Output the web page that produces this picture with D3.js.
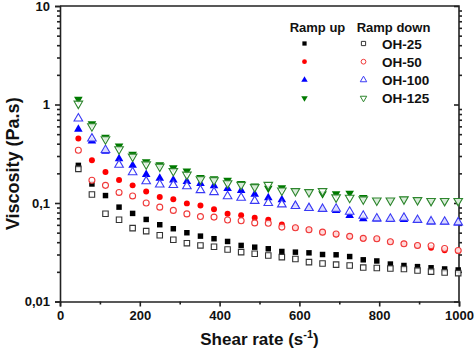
<!DOCTYPE html>
<html>
<head>
<meta charset="utf-8">
<script src="https://cdn.jsdelivr.net/npm/d3@7"></script>
<style>
    body { margin: 0; background: #fff; }
    text { font-family: "Liberation Sans", Arial, sans-serif; font-weight: bold; fill: #111; }
</style>
</head>
<body>
<div id="chart"></div>
<script>
// shear rate (s-1), one value per column of points
const shearRate = [46, 80, 114, 148, 182, 216, 250, 284, 318, 352, 386, 420, 454, 488, 522,
    556, 590, 624, 658, 692, 726, 760, 794, 828, 862, 896, 930, 964, 998];

// viscosity (Pa.s), ramp up
const oh25Up = [0.241, 0.156, 0.119, 0.0908, 0.0784, 0.0681, 0.0602, 0.0548, 0.0499, 0.0461,
    0.0434, 0.0407, 0.0371, 0.0356, 0.0343, 0.0322, 0.0317, 0.0312, 0.0300, 0.0298,
    0.0286, 0.0265, 0.0258, 0.0240, 0.0232, 0.0226, 0.0220, 0.0214, 0.0209];
const oh50Up = [0.451, 0.271, 0.206, 0.171, 0.151, 0.131, 0.115, 0.109, 0.0991, 0.0941,
    0.0865, 0.0778, 0.0753, 0.0709, 0.0676, 0.0605, 0.0561, 0.0535, 0.0506, 0.0480,
    0.0457, 0.0434, 0.0431, 0.0404, 0.0385, 0.0371, 0.0351, 0.0332, 0.0326];
const oh100Up = [0.561, 0.426, 0.335, 0.281, 0.241, 0.195, 0.178, 0.171, 0.165, 0.158,
    0.150, 0.140, 0.134, 0.123, 0.113, 0.108, 0.0946, 0.0888, 0.0857, 0.0841,
    0.0748, 0.0692, 0.0686, 0.0681, 0.0678, 0.0665, 0.0640, 0.0640, 0.0625];
const oh125Up = [1.13, 0.638, 0.465, 0.379, 0.312, 0.263, 0.244, 0.228, 0.211, 0.182,
    0.176, 0.170, 0.158, 0.149, 0.141, 0.143, 0.134, 0.131, 0.124, 0.124,
    0.126, 0.114, 0.106, 0.106, 0.109, 0.107, 0.105, 0.105, 0.105];

// viscosity (Pa.s), ramp down
const oh25Down = [0.222, 0.122, 0.0778, 0.0676, 0.0556, 0.0518, 0.0470, 0.0424, 0.0391, 0.0371,
    0.0360, 0.0337, 0.0317, 0.0305, 0.0293, 0.0282, 0.0270, 0.0251, 0.0243, 0.0237,
    0.0232, 0.0221, 0.0219, 0.0216, 0.0214, 0.0206, 0.0201, 0.0197, 0.0194];
const oh50Down = [0.343, 0.170, 0.151, 0.128, 0.118, 0.100, 0.0908, 0.0841, 0.0775, 0.0728,
    0.0719, 0.0673, 0.0661, 0.0628, 0.0623, 0.0569, 0.0561, 0.0535, 0.0506, 0.0485,
    0.0459, 0.0438, 0.0434, 0.0404, 0.0385, 0.0371, 0.0368, 0.0345, 0.0330];
const oh100Down = [0.720, 0.451, 0.345, 0.244, 0.205, 0.166, 0.154, 0.152, 0.148, 0.135,
    0.129, 0.117, 0.113, 0.105, 0.100, 0.0968, 0.0933, 0.0888, 0.0871, 0.0875,
    0.0816, 0.0743, 0.0697, 0.0692, 0.0707, 0.0673, 0.0650, 0.0646, 0.0635];
const oh125Down = [1.02, 0.601, 0.444, 0.351, 0.296, 0.247, 0.234, 0.211, 0.194, 0.174,
    0.170, 0.159, 0.153, 0.145, 0.153, 0.134, 0.132, 0.129, 0.132, 0.114,
    0.113, 0.109, 0.106, 0.106, 0.109, 0.107, 0.105, 0.105, 0.105];

const samples = ["OH-25", "OH-50", "OH-100", "OH-125"];
const xTicks = [0, 200, 400, 600, 800, 1000];
const yTicks = [0.01, 0.1, 1, 10];
const yTickLabels = ["0,01", "0,1", "1", "10"];

// one entry per sample: colour, symbol and both ramps
const series = [
    { name: samples[0], color: "#000000", open: "#333333", symbol: d3.symbolSquare, size: 30, rotate: 0, up: oh25Up, down: oh25Down },
    { name: samples[1], color: "#ff0000", open: "#f03a3a", symbol: d3.symbolCircle, size: 28, rotate: 0, up: oh50Up, down: oh50Down },
    { name: samples[2], color: "#0000ff", open: "#3a3af5", symbol: d3.symbolTriangle, size: 32, rotate: 0, up: oh100Up, down: oh100Down },
    { name: samples[3], color: "#007a00", open: "#2e862e", symbol: d3.symbolTriangle, size: 32, rotate: 180, up: oh125Up, down: oh125Down }
];

const W = 474, H = 353;
const margin = { top: 6, right: 15, bottom: 51.5, left: 60 };
const width = W - margin.left - margin.right;
const height = H - margin.top - margin.bottom;

const svg = d3.select("#chart").append("svg")
    .attr("width", W)
    .attr("height", H);

const g = svg.append("g")
    .attr("transform", `translate(${margin.left},${margin.top})`);

const x = d3.scaleLinear().domain([0, 1000]).range([0, width]);
const y = d3.scaleLog().domain([0.01, 10]).range([height, 0]);

// minor ticks
const xMinor = d3.range(100, 1000, 200);
const yMinor = [];
[0.01, 0.1, 1].forEach(d => { for (let i = 2; i <= 9; i++) yMinor.push(d * i); });

// bottom axis
const xAxis = g.append("g")
    .attr("transform", `translate(0,${height})`)
    .call(d3.axisBottom(x).tickValues(xTicks).tickSize(5).tickPadding(4).tickFormat(d3.format("d")));
xAxis.selectAll("text").style("font-size", "13px");
g.append("g")
    .attr("transform", `translate(0,${height})`)
    .call(d3.axisBottom(x).tickValues(xMinor).tickSize(3).tickFormat(""))
    .select(".domain").remove();

// left axis
const yAxis = g.append("g")
    .call(d3.axisLeft(y).tickValues(yTicks).tickSize(5).tickPadding(5)
        .tickFormat((d, i) => yTickLabels[i]));
yAxis.selectAll("text").style("font-size", "13px");
g.append("g")
    .call(d3.axisLeft(y).tickValues(yMinor).tickSize(3).tickFormat(""))
    .select(".domain").remove();

// right axis, ticks pointing inward
g.append("g")
    .attr("transform", `translate(${width},0)`)
    .call(d3.axisLeft(y).tickValues(yTicks).tickSize(5).tickFormat(""))
    .select(".domain").remove();
g.append("g")
    .attr("transform", `translate(${width},0)`)
    .call(d3.axisRight(y).tickValues(yMinor).tickSize(3).tickFormat(""))
    .select(".domain").remove();

g.selectAll(".domain, .tick line").attr("stroke", "#222").attr("stroke-width", 1.6);

// frame top and right
g.append("path")
    .attr("d", `M0,0H${width}V${height}`)
    .attr("fill", "none")
    .attr("stroke", "#222")
    .attr("stroke-width", 1.6);

// axis titles
svg.append("text")
    .attr("transform", `translate(19,${margin.top + height / 2 + 10}) rotate(-90)`)
    .attr("text-anchor", "middle")
    .style("font-size", "18px")
    .text("Viscosity (Pa.s)");

const xTitle = svg.append("text")
    .attr("x", margin.left + width / 2)
    .attr("y", 345)
    .attr("text-anchor", "middle")
    .style("font-size", "17px");
xTitle.append("tspan").text("Shear rate (s");
xTitle.append("tspan").attr("dy", -7).style("font-size", "11px").text("-1");
xTitle.append("tspan").attr("dy", 7).text(")");

// points: filled ramp up first, open ramp down on top
const marks = g.append("g");
series.forEach(s => {
    const sym = d3.symbol().type(s.symbol).size(s.size);
    marks.append("g").selectAll("path")
        .data(shearRate.map((r, i) => ({ r: r, v: s.up[i] })))
        .enter().append("path")
        .attr("d", sym)
        .attr("transform", d => `translate(${x(d.r)},${y(d.v)}) rotate(${s.rotate})`)
        .attr("fill", s.color);
});
series.forEach(s => {
    const sym = d3.symbol().type(s.symbol).size(s.size);
    marks.append("g").selectAll("path")
        .data(shearRate.map((r, i) => ({ r: r, v: s.down[i] })))
        .enter().append("path")
        .attr("d", sym)
        .attr("transform", d => `translate(${x(d.r)},${y(d.v)}) rotate(${s.rotate})`)
        .attr("fill", "#fff")
        .attr("fill-opacity", 0.85)
        .attr("stroke", s.open)
        .attr("stroke-width", 1.1);
});

// legend
const legend = svg.append("g");
legend.append("text").attr("x", 317.5).attr("y", 32).attr("text-anchor", "middle")
    .style("font-size", "13px").text("Ramp up");
legend.append("text").attr("x", 393.5).attr("y", 32).attr("text-anchor", "middle")
    .style("font-size", "13px").text("Ramp down");

series.forEach((s, i) => {
    const ly = 43.5 + i * 18.2;
    const lsym = d3.symbol().type(s.symbol).size(18);
    legend.append("path")
        .attr("d", lsym)
        .attr("transform", `translate(304.5,${ly}) rotate(${s.rotate})`)
        .attr("fill", s.color);
    legend.append("path")
        .attr("d", lsym)
        .attr("transform", `translate(363.5,${ly}) rotate(${s.rotate})`)
        .attr("fill", "#fff")
        .attr("stroke", s.open)
        .attr("stroke-width", 1);
    legend.append("text")
        .attr("x", 382)
        .attr("y", ly + 5)
        .style("font-size", "13.5px")
        .text(s.name);
});
</script>
</body>
</html>
